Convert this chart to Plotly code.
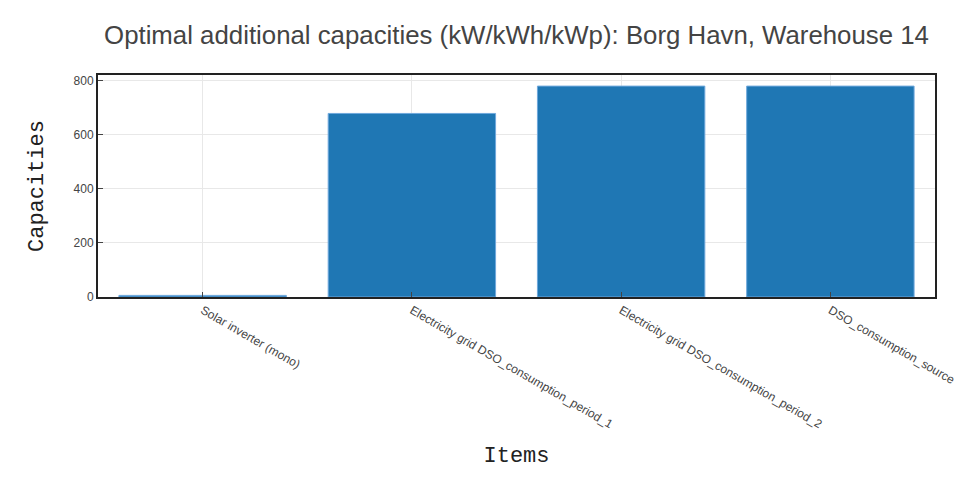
import plotly.graph_objects as go

items = [
    "Solar inverter (mono)",
    "Electricity grid DSO_consumption_period_1",
    "Electricity grid DSO_consumption_period_2",
    "DSO_consumption_source",
]
capacities = [6, 678, 779, 779]

fig = go.Figure(
    data=[go.Bar(x=items, y=capacities, marker_color="#1f77b4",
                 marker_line=dict(color="#6fa8dc", width=1))],
)

axis_style = dict(
    showline=True, linecolor="#222", linewidth=2, mirror=True,
    showgrid=True, gridcolor="#e8e8e8",
    ticks="inside", ticklen=5, tickcolor="#444",
    tickfont=dict(family="Liberation Sans, Arial", size=12, color="#444"),
)

fig.update_layout(
    template="none",
    width=962, height=488,
    margin=dict(l=90, r=35, t=67, b=199),
    title=dict(
        text="Optimal additional capacities (kW/kWh/kWp): Borg Havn, Warehouse 14",
        x=0.5, xref="paper", y=1 - 27 / 488, yanchor="middle",
        font=dict(family="Liberation Sans, Arial", size=25.8, color="#444"),
    ),
    xaxis=dict(title=dict(text="Items", standoff=16,
                          font=dict(family="Liberation Mono, Courier New", size=22, color="#222")),
               tickangle=30, **axis_style),
    yaxis=dict(title=dict(text="Capacities",
                          font=dict(family="Liberation Mono, Courier New", size=22, color="#222")),
               **axis_style),
    plot_bgcolor="white", paper_bgcolor="white",
    bargap=0.2,
)

fig.write_html("out.html")
